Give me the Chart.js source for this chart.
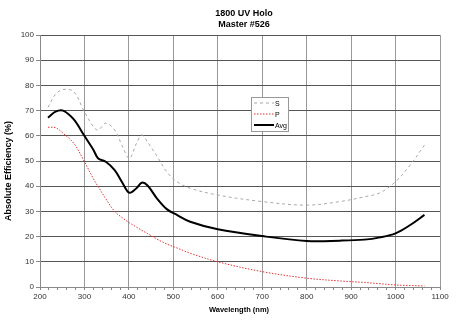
<!DOCTYPE html>
<html>
<head>
<meta charset="utf-8">
<script src="https://cdn.jsdelivr.net/npm/chart.js@4.4.1/dist/chart.umd.min.js"></script>
<style>
  html, body { margin: 0; padding: 0; background: #fff; }
  #wrap { width: 474px; height: 322px; position: relative; }
</style>
</head>
<body>
<div id="wrap"><canvas id="effChart" width="474" height="322"></canvas></div>
<script>
// Wavelength (nm) sample points
const wavelengths = [218, 235, 252, 276, 298, 320, 331, 348, 368, 385, 401, 417, 429, 442, 463, 486, 508, 538, 600, 700, 800, 875, 930, 965, 1000, 1033, 1065];
// Absolute efficiency (%)
const sValues   = [71.3, 76.5, 78.4, 77.5, 70.2, 63.6, 62.3, 65.0, 62.3, 56.0, 51.0, 57.0, 60.3, 57.5, 52.0, 45.5, 41.8, 39.2, 36.5, 33.9, 32.5, 33.9, 35.8, 37.4, 41.8, 48.4, 56.3];
const pValues   = [63.4, 63.2, 61.0, 57.0, 50.4, 43.0, 39.8, 35.0, 30.0, 27.5, 25.5, 23.8, 22.5, 21.2, 19.0, 17.0, 15.5, 13.4, 10.0, 6.1, 3.5, 2.4, 1.8, 1.3, 0.8, 0.6, 0.4];
const avgValues = [67.2, 69.6, 70.0, 66.5, 60.5, 54.5, 51.0, 49.7, 46.4, 41.5, 37.4, 39.2, 41.4, 40.3, 35.2, 30.8, 28.6, 25.9, 22.9, 20.2, 18.3, 18.4, 18.8, 19.7, 21.3, 24.6, 28.6];

const titleLines = ['1800 UV Holo', 'Master #526'];
const xTitle = 'Wavelength (nm)';
const yTitle = 'Absolute Efficiency (%)';

const FONT = "'Liberation Sans', Arial, sans-serif";

function toPoints(values) {
    return values.map((v, i) => ({ x: wavelengths[i], y: v }));
}

// Titles + boxed legend drawn on top of the plot
const decorPlugin = {
    id: 'decor',
    afterDraw(chart) {
        const ctx = chart.ctx;
        const area = chart.chartArea;
        ctx.save();
        ctx.fillStyle = '#000';
        ctx.font = 'bold 9px ' + FONT;
        ctx.textAlign = 'center';
        ctx.textBaseline = 'middle';
        const cx = (area.left + area.right) / 2 + 4;
        ctx.fillText(titleLines[0], cx, 14);
        ctx.fillText(titleLines[1], cx, 25);

        // axis titles
        ctx.font = 'bold 7.5px ' + FONT;
        ctx.fillText(xTitle, cx - 5, 310);
        ctx.save();
        ctx.translate(9, 171);
        ctx.rotate(-Math.PI / 2);
        ctx.font = 'bold 9px ' + FONT;
        ctx.fillText(yTitle, 0, 0);
        ctx.restore();

        // legend box
        const bx = 251, by = 97, bw = 37, bh = 34;
        ctx.fillStyle = '#fff';
        ctx.fillRect(bx, by, bw, bh);
        ctx.strokeStyle = '#999';
        ctx.lineWidth = 1;
        ctx.strokeRect(bx + 0.5, by + 0.5, bw, bh);
        ctx.font = '7px ' + FONT;
        ctx.textAlign = 'left';
        chart.data.datasets.forEach((ds, i) => {
            const ly = by + 6 + i * 11;
            ctx.beginPath();
            ctx.strokeStyle = ds.borderColor;
            ctx.lineWidth = ds.borderWidth;
            ctx.setLineDash(ds.borderDash || []);
            ctx.moveTo(bx + 3, ly);
            ctx.lineTo(bx + 23, ly);
            ctx.stroke();
            ctx.setLineDash([]);
            ctx.fillStyle = '#000';
            ctx.fillText(ds.label, bx + 24, ly + 1);
        });
        ctx.restore();
    }
};

const ctx = document.getElementById('effChart').getContext('2d');
new Chart(ctx, {
    type: 'line',
    data: {
        datasets: [
            {
                label: 'S',
                data: toPoints(sValues),
                borderColor: '#a8a8a8',
                borderWidth: 1,
                borderDash: [3, 3],
                pointRadius: 0,
                tension: 0.35
            },
            {
                label: 'P',
                data: toPoints(pValues),
                borderColor: '#e03030',
                borderWidth: 1,
                borderDash: [1.5, 1.5],
                pointRadius: 0,
                tension: 0.35
            },
            {
                label: 'Avg',
                data: toPoints(avgValues),
                borderColor: '#000000',
                borderWidth: 2,
                pointRadius: 0,
                tension: 0.35
            }
        ]
    },
    options: {
        responsive: false,
        animation: false,
        layout: { padding: { top: 35, right: 34, left: 0, bottom: 0 } },
        plugins: {
            legend: { display: false },
            tooltip: { enabled: false }
        },
        scales: {
            x: {
                type: 'linear',
                min: 200,
                max: 1100,
                afterFit: (s) => { s.height = 35; },
                border: { color: '#888', width: 1 },
                grid: {
                    color: (c) => (c.tick && c.tick.value % 100 === 0) ? '#999' : 'rgba(0,0,0,0)',
                    tickColor: '#888',
                    tickLength: 3
                },
                ticks: {
                    stepSize: 20,
                    autoSkip: false,
                    maxRotation: 0,
                    padding: 2,
                    color: '#333',
                    font: { family: FONT, size: 8 },
                    callback: (v) => v % 100 === 0 ? v : ''
                }
            },
            y: {
                min: 0,
                max: 100,
                afterFit: (s) => { s.width = 40; },
                border: { color: '#888', width: 1 },
                grid: {
                    color: '#555',
                    tickColor: '#888',
                    tickLength: 4
                },
                ticks: {
                    stepSize: 10,
                    padding: 2,
                    color: '#333',
                    font: { family: FONT, size: 8 }
                }
            }
        }
    },
    plugins: [decorPlugin]
});
</script>
</body>
</html>
